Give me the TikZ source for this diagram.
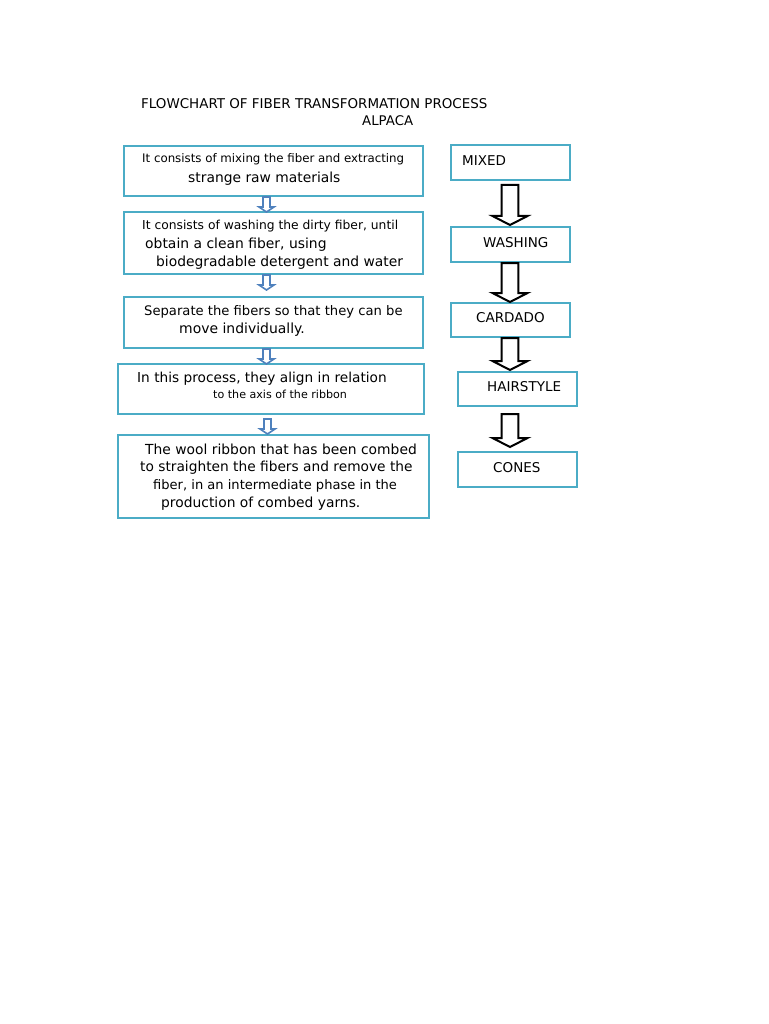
\documentclass[tikz,border=0pt]{standalone}
\usepackage{fontspec}
\setmainfont{DejaVu Sans}
\usetikzlibrary{calc}
\definecolor{boxblue}{HTML}{4BACC6}
\definecolor{arrblue}{HTML}{4F81BD}
\newcommand\fs[1]{\fontsize{#1}{#1}\selectfont}
% block arrow: style, x, ytop, ybot, shaft half, head half, head length
\newcommand\blockarr[7]{\draw[#1] (#2-#5,#3) -- (#2+#5,#3) -- (#2+#5,#4-#7) -- (#2+#6,#4-#7) -- (#2,#4) -- (#2-#6,#4-#7) -- (#2-#5,#4-#7) -- cycle;}
\begin{document}
\begin{tikzpicture}[x=1pt,y=-1pt,
  flowbox/.style={draw=boxblue,line width=2pt},
  txt/.style={anchor=west,inner sep=0pt,text=black},
  bigarr/.style={draw=black,fill=white,line width=2pt,line join=miter},
  smallarr/.style={draw=arrblue,fill=white,line width=1.6pt,line join=miter}]
\useasboundingbox (0,0) rectangle (768,1024);
\fill[white] (0,0) rectangle (768,1024);
% title
\node[txt,font=\fs{13.45}] (title1) at (141,104) {FLOWCHART OF FIBER TRANSFORMATION PROCESS};
\node[txt,font=\fs{13.3}] (title2) at (362,121) {ALPACA};
% left boxes
\draw[flowbox] (124,146) rectangle (423,196);
\draw[flowbox] (124,212) rectangle (423,274);
\draw[flowbox] (124,297) rectangle (423,348);
\draw[flowbox] (118,364) rectangle (424,414);
\draw[flowbox] (118,435) rectangle (429,518);
% left texts
\node[txt,font=\fs{11.8}] (a1) at (142,159.5) {It consists of mixing the fiber and extracting};
\node[txt,font=\fs{13.85}] (a2) at (188,178.5) {strange raw materials};
\node[txt,font=\fs{12.3}] (b1) at (142,226.5) {It consists of washing the dirty fiber, until};
\node[txt,font=\fs{13.9}] (b2) at (145,244.5) {obtain a clean fiber, using};
\node[txt,font=\fs{13.85}] (b3) at (156,262.5) {biodegradable detergent and water};
\node[txt,font=\fs{13.15}] (c1) at (144,311.5) {Separate the fibers so that they can be};
\node[txt,font=\fs{13.95}] (c2) at (179,329.5) {move individually.};
\node[txt,font=\fs{13.7}] (d1) at (137,378.5) {In this process, they align in relation};
\node[txt,font=\fs{11.1}] (d2) at (213,394) {to the axis of the ribbon};
\node[txt,font=\fs{13.85}] (e1) at (145,449.5) {The wool ribbon that has been combed};
\node[txt,font=\fs{13.75}] (e2) at (140,467.5) {to straighten the fibers and remove the};
\node[txt,font=\fs{13.05}] (e3) at (153,485.5) {fiber, in an intermediate phase in the};
\node[txt,font=\fs{13.85}] (e4) at (161,503.5) {production of combed yarns.};
% small arrows
\blockarr{smallarr}{266.5}{197}{212}{3.5}{7.5}{5}
\blockarr{smallarr}{266.5}{275}{290}{3.5}{7.5}{5}
\blockarr{smallarr}{266.5}{349}{364}{3.5}{7.5}{5}
\blockarr{smallarr}{267.5}{419}{434}{3.5}{7.5}{5}
% right boxes
\draw[flowbox] (451,145) rectangle (570,180);
\draw[flowbox] (451,227) rectangle (570,262);
\draw[flowbox] (451,303) rectangle (570,337);
\draw[flowbox] (458,372) rectangle (577,406);
\draw[flowbox] (458,452) rectangle (577,487);
\node[txt,font=\fs{13.5}] (r1) at (462,161) {MIXED};
\node[txt,font=\fs{13.5}] (r2) at (483,243) {WASHING};
\node[txt,font=\fs{13.5}] (r3) at (476,318) {CARDADO};
\node[txt,font=\fs{13.5}] (r4) at (487,387) {HAIRSTYLE};
\node[txt,font=\fs{13.5}] (r5) at (493,468) {CONES};
% big arrows
\blockarr{bigarr}{510}{185}{225}{8.3}{17.5}{9}
\blockarr{bigarr}{510}{263}{302}{8.3}{17.5}{9}
\blockarr{bigarr}{510}{338}{370}{8.3}{17.5}{9}
\blockarr{bigarr}{510}{414}{447}{8.3}{17.5}{9}
\end{tikzpicture}
\end{document}
